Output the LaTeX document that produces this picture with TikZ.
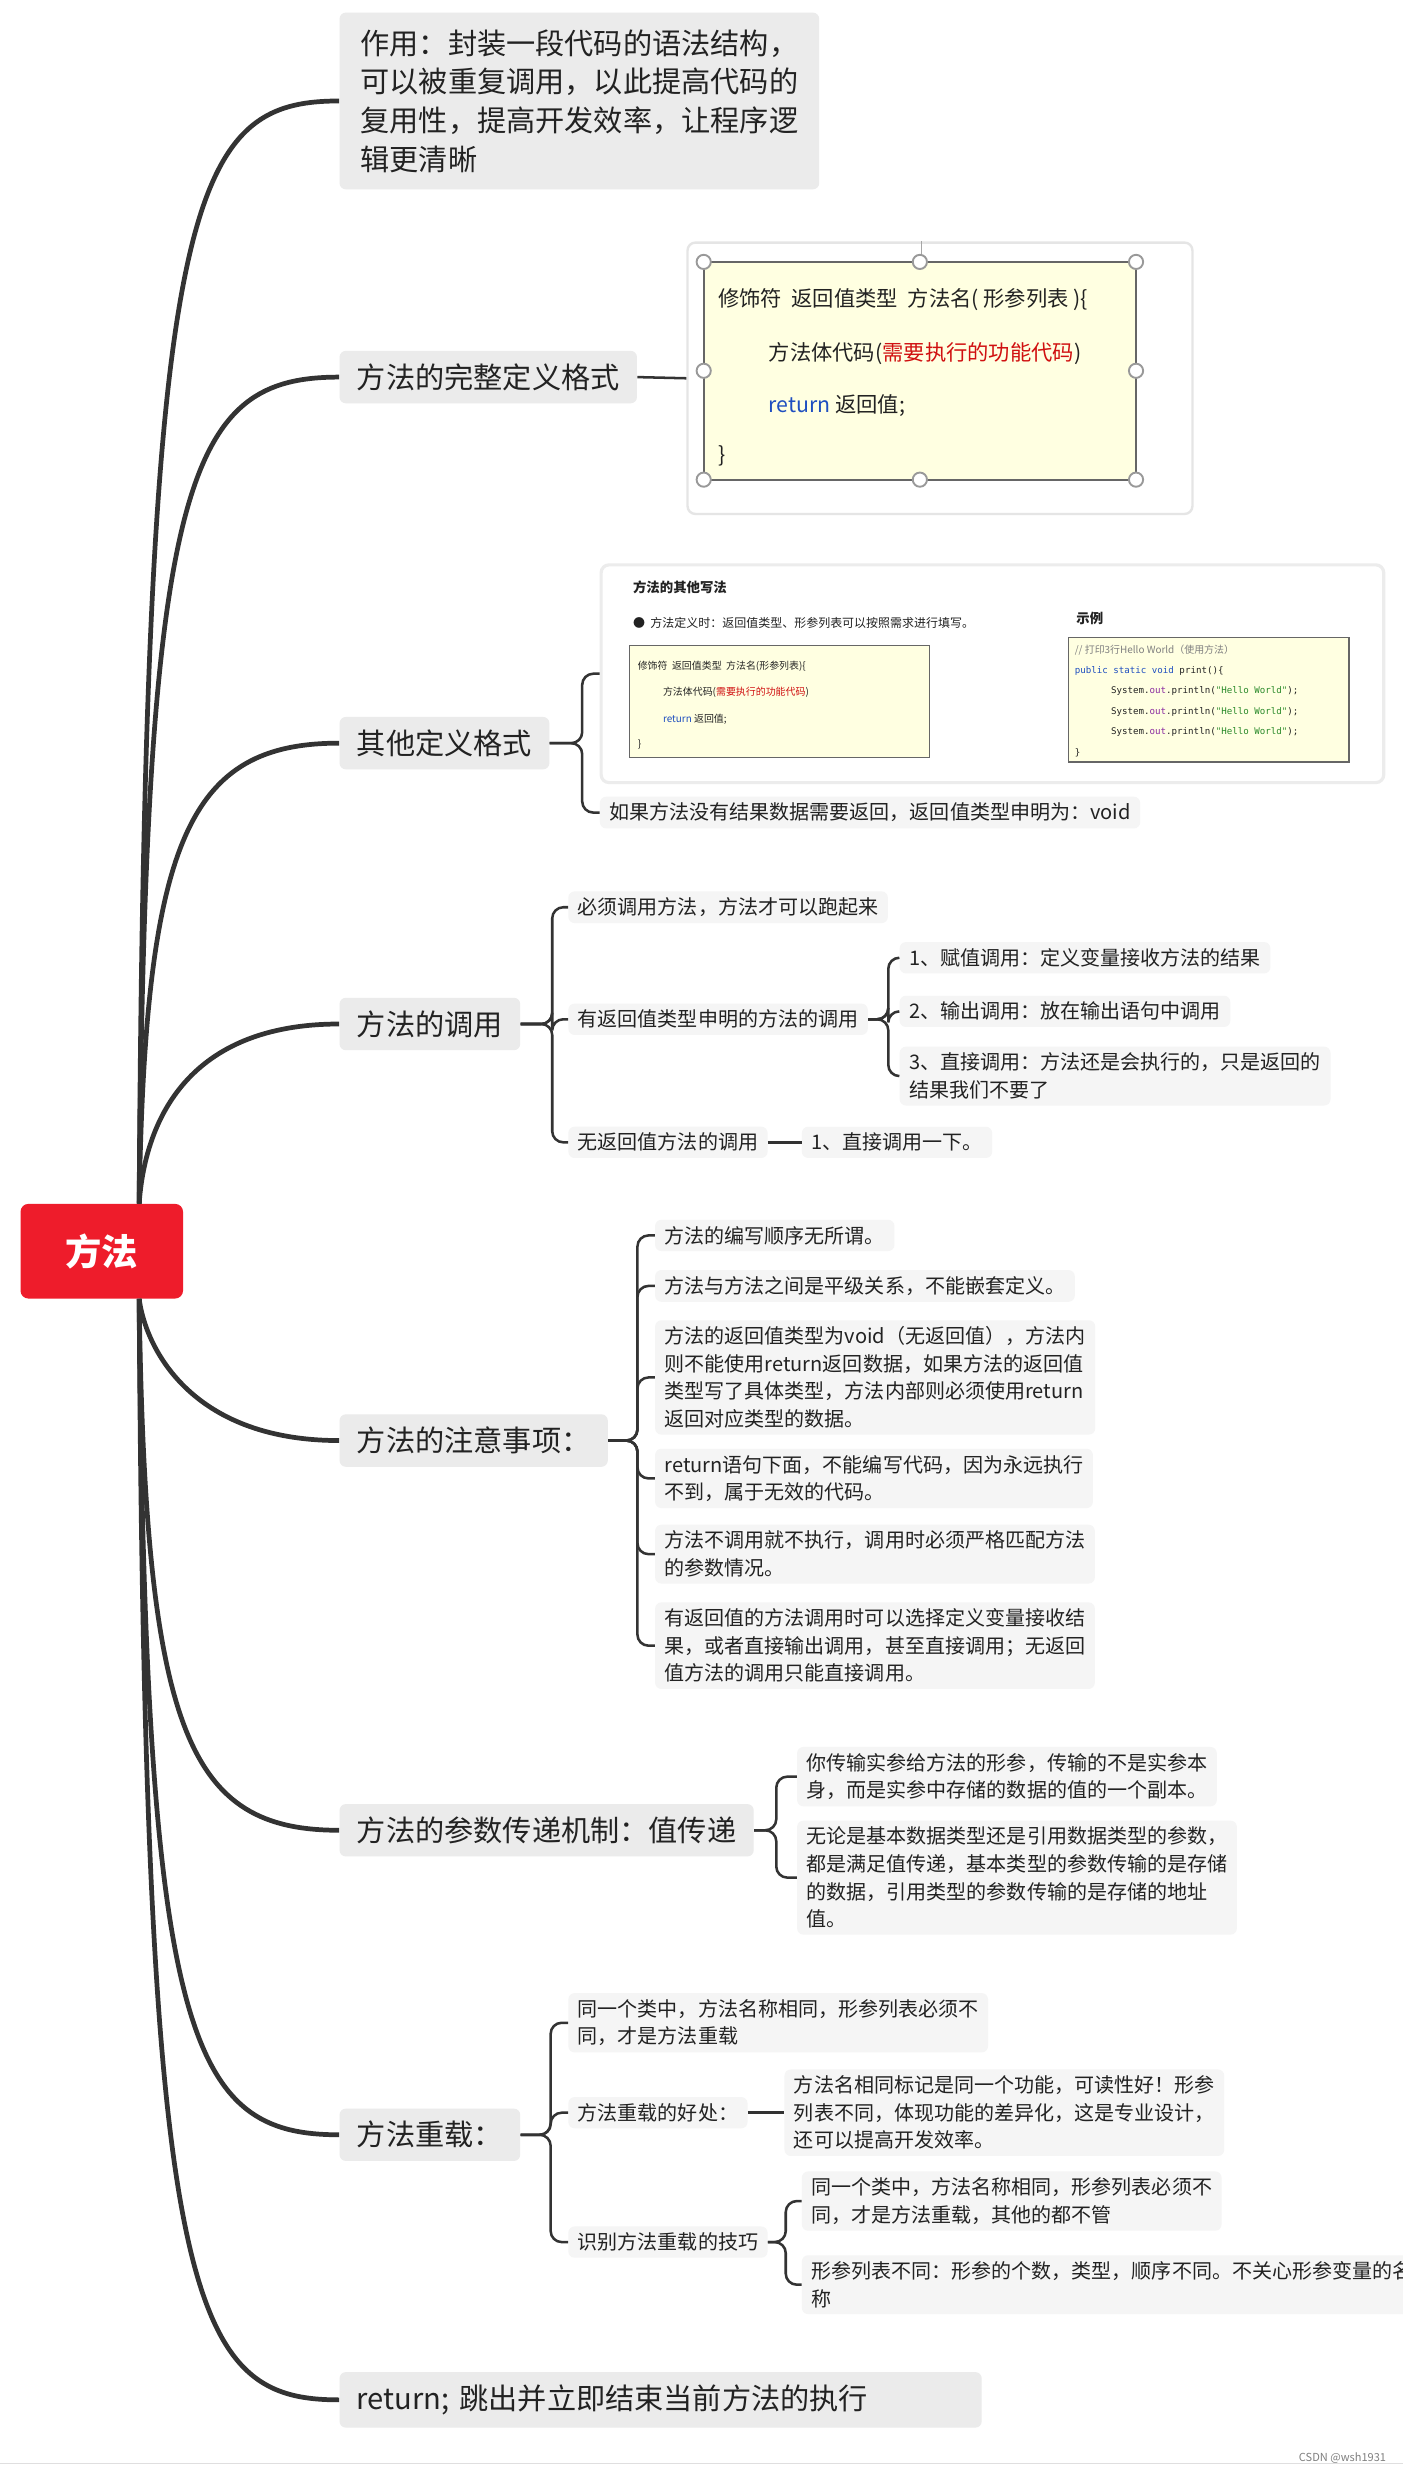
\documentclass[tikz,border=0pt]{standalone}
\usepackage{xcolor}
\usepackage{fontspec}
\setmainfont{Noto Sans CJK SC}
\setmonofont{DejaVu Sans Mono}
\definecolor{rootred}{HTML}{EE1C2B}
\definecolor{mgray}{HTML}{EBEBEB}
\definecolor{lgray}{HTML}{F5F5F5}
\definecolor{txt}{HTML}{222222}
\definecolor{ln}{HTML}{333333}
\definecolor{codey}{HTML}{FFFFE1}
\definecolor{kw}{HTML}{1F4FC0}
\definecolor{rd}{HTML}{D01010}
\definecolor{pu}{HTML}{8A2BA0}
\definecolor{gr}{HTML}{2A8A2A}
\newcommand{\tc}[2]{{\color{#1}#2}}
\begin{document}
\begin{tikzpicture}[x=1pt,y=-1pt]
\tikzset{
 main/.style={fill=mgray, rounded corners=4, inner xsep=11, inner ysep=8, font=\fontsize{18.5}{24.5}\selectfont, text=txt, align=left, anchor=west},
 leaf/.style={fill=lgray, rounded corners=4, inner xsep=6, inner ysep=4, font=\fontsize{12.7}{17.5}\selectfont, text=txt, align=left, anchor=west},
 trunk/.style={draw=ln, line width=3},
 conn/.style={draw=ln, line width=1.6, rounded corners=7},
 handle/.style={circle, draw=gray!80, fill=white, line width=1.2, inner sep=0, minimum size=9},
 small/.style={font=\fontsize{6.3}{8}\selectfont, anchor=west, inner sep=0, text=txt},
}
\useasboundingbox (0,0) rectangle (889,1568);
\fill[white] (0,0) rectangle (889,1568);
\draw[gray!25] (0,1561) -- (889,1561);
\node[font=\fontsize{7}{8}\selectfont, text=gray, anchor=east] (wm) at (882,1558) {CSDN @wsh1931};

% root
\node[fill=rootred, rounded corners=5, minimum width=103, minimum height=60, text=white, font=\fontsize{23}{26}\bfseries\selectfont] (root) at (64.5,793) {方法};

% main nodes
\node[main, minimum width=304, minimum height=112] (n1) at (215,64) {作用：封装一段代码的语法结构，\\可以被重复调用，以此提高代码的\\复用性，提高开发效率，让程序逻\\辑更清晰};
\node[main] (n2) at (215,239) {方法的完整定义格式};
\node[main] (n3) at (215,471) {其他定义格式};
\node[main] (n4) at (215,649) {方法的调用};
\node[main] (n5) at (215,913) {方法的注意事项：};
\node[main] (n6) at (215,1160) {方法的参数传递机制：值传递};
\node[main] (n7) at (215,1353) {方法重载：};
\node[main, text width=385] (n8) at (215,1521) {return; 跳出并立即结束当前方法的执行};

% trunks
\foreach \n/\yy in {n1/64,n2/239,n3/471,n4/649} {
  \draw[trunk] (root.north east) ++(-28,0) .. controls (92,\yy+60) and (120,\yy) .. (\n.west);
}
\foreach \n/\yy in {n5/913,n6/1160,n7/1353,n8/1521} {
  \draw[trunk] (root.south east) ++(-28,0) .. controls (92,\yy-60) and (120,\yy) .. (\n.west);
}

% panel 1
\node[draw=gray!20, fill=white, rounded corners=5, line width=1.5, minimum width=320, minimum height=172, anchor=north west, inner sep=0] (p1) at (435,153) {};
\draw[conn] (n2.east) -- (p1.west);
\draw[gray!70, line width=1] (584,153) -- (584,166);
\draw[draw=gray!80!black, fill=codey, line width=1.2] (446,166) rectangle (720,304);
\foreach \px/\py in {446/166,583/166,720/166,446/235,720/235,446/304,583/304,720/304}
  \node[handle] at (\px,\py) {};
\node[anchor=west, inner sep=0, text=txt, font=\fontsize{13.5}{16}\selectfont] (c1) at (455,190) {修饰符\ \ 返回值类型\ \ 方法名( 形参列表 )\{};
\node[anchor=west, inner sep=0, text=txt, font=\fontsize{13.5}{16}\selectfont] (c2) at (487,224) {方法体代码(\tc{rd}{需要执行的功能代码})};
\node[anchor=west, inner sep=0, text=txt, font=\fontsize{13.5}{16}\selectfont] (c3) at (487,257) {\tc{kw}{return} 返回值;};
\node[anchor=west, inner sep=0, text=txt, font=\fontsize{13.5}{16}\selectfont] (c4) at (455,289) {\}};

% panel 2
\node[draw=gray!15, fill=white, rounded corners=5, line width=2, minimum width=496, minimum height=138, anchor=north west, inner sep=0] (p2) at (380,357) {};
\node[small, font=\fontsize{8.5}{10}\bfseries\selectfont] (t1) at (401,372) {方法的其他写法};
\node[small, font=\fontsize{7.6}{9}\selectfont] (t2) at (401,395) {●\ \ 方法定义时：返回值类型、形参列表可以按照需求进行填写。};
\node[small, font=\fontsize{8.5}{10}\bfseries\selectfont] (t3) at (682,392) {示例};
\draw[draw=gray!80!black, fill=codey, line width=0.8] (399,409) rectangle (589,480);
\node[small] (s1) at (404,422) {修饰符\ \ 返回值类型\ \ 方法名(形参列表)\{};
\node[small] (s2) at (420,439) {方法体代码(\tc{rd}{需要执行的功能代码})};
\node[small] (s3) at (420,456) {\tc{kw}{return} 返回值;};
\node[small] (s4) at (404,472) {\}};
\draw[draw=gray!80!black, fill=codey, line width=0.8] (677,404) rectangle (855,483);
\node[small, text=gray, font=\fontsize{6.3}{8}\itshape\selectfont] (e0) at (681,412) {// 打印3行Hello World（使用方法）};
\node[small, font=\fontsize{5.8}{8}\ttfamily] (e1) at (681,425) {\tc{kw}{public static void} print()\{};
\foreach \yy in {438,451,464} \node[small, font=\fontsize{5.8}{8}\ttfamily] at (704,\yy) {System.\tc{pu}{out}.println(\tc{gr}{"Hello World"});};
\node[small, font=\fontsize{5.8}{8}\ttfamily] (e5) at (681,477) {\}};
\node[leaf] (l31) at (380,515) {如果方法没有结果数据需要返回，返回值类型申明为：void};
\coordinate (j3) at (369,0);
\draw[conn] (n3.east) -- (n3.east -| j3) |- (p2.west);
\draw[conn] (n3.east) -- (n3.east -| j3) |- (l31.west);

% calls
\coordinate (j4) at (350,0);
\node[leaf] (l41) at (360,575) {必须调用方法，方法才可以跑起来};
\node[leaf] (l42) at (360,646) {有返回值类型申明的方法的调用};
\node[leaf] (l43) at (360,724) {无返回值方法的调用};
\foreach \c in {l41,l42,l43} \draw[conn] (n4.east) -- (n4.east -| j4) |- (\c.west);
\coordinate (j42) at (563,0);
\node[leaf] (l421) at (570,607) {1、赋值调用：定义变量接收方法的结果};
\node[leaf] (l422) at (570,641) {2、输出调用：放在输出语句中调用};
\node[leaf] (l423) at (570,682) {3、直接调用：方法还是会执行的，只是返回的\\结果我们不要了};
\foreach \c in {l421,l422,l423} \draw[conn] (l42.east) -- (l42.east -| j42) |- (\c.west);
\node[leaf] (l431) at (508,724) {1、直接调用一下。};
\draw[conn] (l43.east) -- (l431.west);

% notes
\coordinate (j5) at (404,0);
\node[leaf] (l51) at (415,783) {方法的编写顺序无所谓。};
\node[leaf] (l52) at (415,815) {方法与方法之间是平级关系，不能嵌套定义。};
\node[leaf] (l53) at (415,873) {方法的返回值类型为void（无返回值），方法内\\则不能使用return返回数据，如果方法的返回值\\类型写了具体类型，方法内部则必须使用return\\返回对应类型的数据。};
\node[leaf] (l54) at (415,937) {return语句下面，不能编写代码，因为永远执行\\不到，属于无效的代码。};
\node[leaf] (l55) at (415,985) {方法不调用就不执行，调用时必须严格匹配方法\\的参数情况。};
\node[leaf] (l56) at (415,1043) {有返回值的方法调用时可以选择定义变量接收结\\果，或者直接输出调用，甚至直接调用；无返回\\值方法的调用只能直接调用。};
\foreach \c in {l51,l52,l53,l54,l55,l56} \draw[conn] (n5.east) -- (n5.east -| j5) |- (\c.west);

% params
\coordinate (j6) at (492,0);
\node[leaf] (l61) at (505,1126) {你传输实参给方法的形参，传输的不是实参本\\身，而是实参中存储的数据的值的一个副本。};
\node[leaf] (l62) at (505,1190) {无论是基本数据类型还是引用数据类型的参数，\\都是满足值传递，基本类型的参数传输的是存储\\的数据，引用类型的参数传输的是存储的地址\\值。};
\foreach \c in {l61,l62} \draw[conn] (n6.east) -- (n6.east -| j6) |- (\c.west);

% overload
\coordinate (j7) at (349,0);
\node[leaf] (l71) at (360,1282) {同一个类中，方法名称相同，形参列表必须不\\同，才是方法重载};
\node[leaf] (l72) at (360,1339) {方法重载的好处：};
\node[leaf] (l73) at (360,1421) {识别方法重载的技巧};
\foreach \c in {l71,l72,l73} \draw[conn] (n7.east) -- (n7.east -| j7) |- (\c.west);
\node[leaf] (l721) at (497,1339) {方法名相同标记是同一个功能，可读性好！形参\\列表不同，体现功能的差异化，这是专业设计，\\还可以提高开发效率。};
\draw[conn] (l72.east) -- (l721.west);
\coordinate (j73) at (498,0);
\node[leaf] (l731) at (508,1395) {同一个类中，方法名称相同，形参列表必须不\\同，才是方法重载，其他的都不管};
\node[leaf] (l732) at (508,1448) {形参列表不同：形参的个数，类型，顺序不同。不关心形参变量的名\\称};
\foreach \c in {l731,l732} \draw[conn] (l73.east) -- (l73.east -| j73) |- (\c.west);
\end{tikzpicture}
\end{document}
